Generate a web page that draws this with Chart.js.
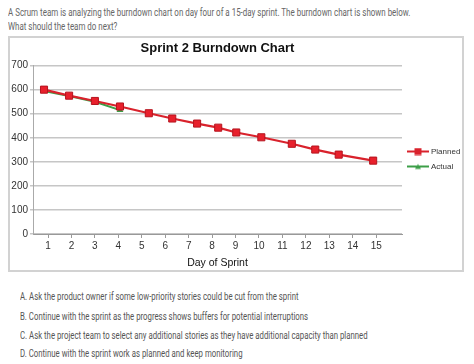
<!DOCTYPE html>
<html>
<head>
<meta charset="utf-8">
<script src="https://cdn.jsdelivr.net/npm/chart.js@4/dist/chart.umd.min.js"></script>
<style>
  body { margin: 0; background: #fff; width: 474px; height: 364px; overflow: hidden; position: relative; font-family: Roboto, sans-serif; color: #666; }
  .q { position: absolute; left: 8px; font-size: 10px; line-height: 14px; white-space: nowrap; transform-origin: 0 50%; transform: scaleX(0.795); }
  .ans { position: absolute; left: 20px; font-size: 10px; line-height: 14px; white-space: nowrap; transform-origin: 0 50%; transform: scaleX(0.78); color: #555; }
  #box { position: absolute; left: 8px; top: 36px; width: 452px; height: 232px; border: 2px solid #d2d2d2; }
</style>
</head>
<body>
<div class="q" style="top:6px">A Scrum team is analyzing the burndown chart on day four of a 15-day sprint. The burndown chart is shown below.</div>
<div class="q" style="top:20px">What should the team do next?</div>
<div id="box"><canvas id="burndown" width="452" height="232"></canvas></div>
<div class="ans" style="top:290px">A. Ask the product owner if some low-priority stories could be cut from the sprint</div>
<div class="ans" style="top:310px">B. Continue with the sprint as the progress shows buffers for potential interruptions</div>
<div class="ans" style="top:329px">C. Ask the project team to select any additional stories as they have additional capacity than planned</div>
<div class="ans" style="top:347px">D. Continue with the sprint work as planned and keep monitoring</div>
<script>
// values (x = where each marker sits along the day axis)
const plannedDays = [0.83, 1.9, 3.0, 4.07, 5.3, 6.3, 7.36, 8.26, 9.03, 10.1, 11.4, 12.4, 13.4, 14.87];
const plannedPts = [600, 575, 553, 530, 502, 480, 459, 442, 422, 402, 375, 351, 330, 305];
const actualDays = [0.83, 1.9, 3.0, 4.07];
const actualPts = [594, 574, 550, 515];
const dayTicks = [1, 2, 3, 4, 5, 6, 7, 8, 9, 10, 11, 12, 13, 14, 15];

const RED = '#d9222c';
const GREEN = '#3c9f48';

function legendIcon(color, marker) {
    const c = document.createElement('canvas');
    c.width = 22; c.height = 8;
    const ctx = c.getContext('2d');
    ctx.strokeStyle = color; ctx.lineWidth = 2;
    ctx.beginPath(); ctx.moveTo(0, 4); ctx.lineTo(22, 4); ctx.stroke();
    ctx.fillStyle = color;
    if (marker === 'rect') ctx.fillRect(7.5, 0.5, 7, 7);
    else { ctx.beginPath(); ctx.moveTo(11, 1.5); ctx.lineTo(14, 6.5); ctx.lineTo(8, 6.5); ctx.closePath(); ctx.fill(); }
    return c;
}

const toXY = (xs, ys) => xs.map((x, i) => ({ x: x, y: ys[i] }));

// push the legend a few px down, like the original
const legendNudge = {
    id: 'legendNudge',
    afterLayout(chart) { chart.legend.top += 5; chart.legend.bottom += 5; }
};

new Chart(document.getElementById('burndown'), {
    type: 'line',
    data: {
        datasets: [{
            label: 'Planned',
            data: toXY(plannedDays, plannedPts),
            borderColor: RED, borderWidth: 2.2,
            pointStyle: 'rect', pointRadius: 5, pointBackgroundColor: '#e8202c', pointBorderColor: '#b5141e', pointBorderWidth: 1,
            legendIcon: legendIcon(RED, 'rect')
        }, {
            label: 'Actual',
            data: toXY(actualDays, actualPts),
            borderColor: GREEN, borderWidth: 2,
            pointStyle: 'triangle', pointRadius: 2, pointBackgroundColor: GREEN, pointBorderColor: GREEN,
            legendIcon: legendIcon(GREEN, 'tri')
        }]
    },
    plugins: [legendNudge],
    options: {
        responsive: false, animation: false,
        layout: { padding: 0 },
        plugins: {
            title: {
                display: true, text: 'Sprint 2 Burndown Chart', fullSize: false,
                color: '#111', font: { family: 'Liberation Sans', size: 13, weight: 'bold' },
                padding: { top: 3, bottom: 9 }
            },
            legend: {
                position: 'right', maxWidth: 60,
                labels: {
                    usePointStyle: true, pointStyleWidth: 18, boxHeight: 8,
                    color: '#333', font: { family: 'Liberation Sans', size: 8 }, padding: 7,
                    generateLabels: chart => chart.data.datasets.map((ds, i) => ({
                        text: ds.label, pointStyle: ds.legendIcon, datasetIndex: i,
                        fillStyle: ds.borderColor, strokeStyle: ds.borderColor, lineWidth: 0, fontColor: '#333'
                    }))
                }
            },
            tooltip: { enabled: false }
        },
        scales: {
            x: {
                type: 'linear', min: 0.36, max: 16.1,
                afterBuildTicks: s => { s.ticks = dayTicks.map(v => ({ value: v })); },
                afterFit: s => { s.height = 36; },
                ticks: { color: '#333', font: { family: 'Liberation Sans', size: 10 }, padding: 2 },
                grid: { drawOnChartArea: false, tickLength: 4, color: '#999' },
                border: { color: '#999' },
                title: { display: true, text: 'Day of Sprint', color: '#111', font: { family: 'Liberation Sans', size: 10.5 }, padding: { top: 3, bottom: 1 } }
            },
            y: {
                min: 0, max: 700,
                afterFit: s => { s.width = 23; },
                ticks: { stepSize: 100, color: '#333', font: { family: 'Liberation Sans', size: 10 }, padding: 2 },
                grid: { color: '#c6c6c6', lineWidth: 1.5, tickLength: 3 },
                border: { color: '#aaa' }
            }
        }
    }
});
</script>
</body>
</html>
